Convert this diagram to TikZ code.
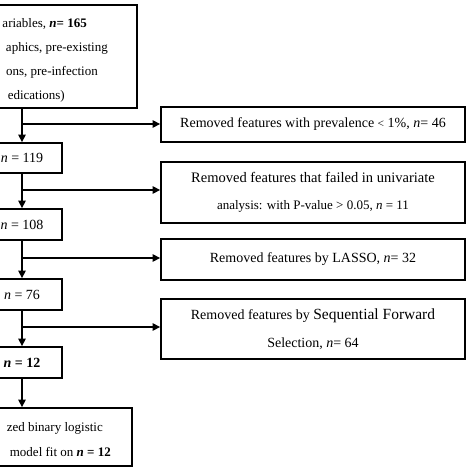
\documentclass[tikz,border=0pt]{standalone}
\usepackage{fontspec}
\setmainfont{Liberation Serif}
\usetikzlibrary{arrows.meta}
\begin{document}
\begin{tikzpicture}[x=1pt,y=-1pt,
  box/.style={draw, line width=1.8pt, inner sep=0pt, align=center},
  txt/.style={inner sep=0pt, anchor=east, font=\fontsize{13}{24}\selectfont},
  arr/.style={line width=1.3pt, -{Triangle[length=7.5pt,width=7.5pt]}},
  font=\fontsize{14}{24}\selectfont]
\useasboundingbox (0,0) rectangle (474,474);
\clip (0,0) rectangle (474,474);
% left column
\node[box, minimum width=217pt, minimum height=103pt] (top) at (28.5,56.5) {};
\node[txt] (t1) at (87,24) {ariables, \textbf{\textit{n}= 165}};
\node[txt] (t2) at (108,48) {aphics, pre-existing};
\node[txt] (t3) at (98,72) {ons, pre-infection};
\node[txt] (t4) at (65,96) {edications)};
\node[box, minimum width=80pt, minimum height=30pt] (b119) at (22,158) {\textit{n} = 119};
\node[box, minimum width=80pt, minimum height=31pt] (b108) at (22,224.5) {\textit{n} = 108};
\node[box, minimum width=80pt, minimum height=31pt] (b76) at (22,294.5) {\textit{n} = 76};
\node[box, minimum width=80pt, minimum height=31pt] (b12) at (22,362.5) {\textbf{\textit{n} = 12}};
\node[box, minimum width=204pt, minimum height=58pt] (fin) at (30,437) {};
\node[txt] (f1) at (103,428) {zed binary logistic};
\node[txt] (f2) at (111,452) {model fit on \textbf{\textit{n} = 12}};
% right column
\node[box, minimum width=304pt, minimum height=35pt] (r1) at (313,124.5)
  {Removed features with prevalence {\fontsize{11.5}{12}\selectfont<} 1\%, \textit{n}= 46};
\node[box, minimum width=304pt, minimum height=61pt] (r2) at (313,192.5)
  {{\fontsize{14.5}{24}\selectfont Removed features that failed in univariate}\\[3pt]{\fontsize{13}{26}\selectfont analysis: with P-value > 0.05, \textit{n} = 11}};
\node[box, minimum width=304pt, minimum height=41pt] (r3) at (313,259.5)
  {Removed features by LASSO, \textit{n}= 32};
\node[box, minimum width=304pt, minimum height=60pt] (r4) at (313,329)
  {{\fontsize{14}{24}\selectfont Removed features by} {\fontsize{15.5}{24}\selectfont Sequential Forward}\\[4pt]{\fontsize{14}{27}\selectfont Selection, \textit{n}= 64}};
% branch points
\coordinate (c1) at (22,124);
\coordinate (c2) at (22,190);
\coordinate (c3) at (22,258);
\coordinate (c4) at (22,327);
% connectors
\draw[arr] (top.south -| b119.north) -- (b119.north);
\draw[arr] (c1) -- (c1 -| r1.west);
\draw[arr] (b119.south) -- (b108.north);
\draw[arr] (c2) -- (c2 -| r2.west);
\draw[arr] (b108.south) -- (b76.north);
\draw[arr] (c3) -- (c3 -| r3.west);
\draw[arr] (b76.south) -- (b12.north);
\draw[arr] (c4) -- (c4 -| r4.west);
\draw[arr] (b12.south) -- (b12.south |- fin.north);
\end{tikzpicture}
\end{document}
